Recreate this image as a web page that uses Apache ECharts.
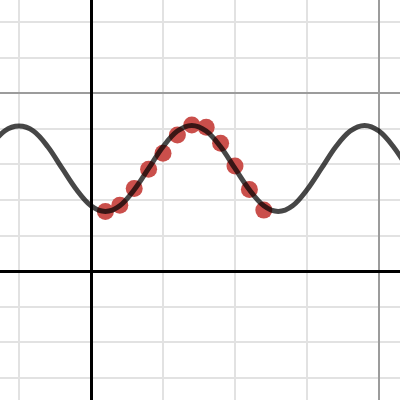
<!DOCTYPE html>
<html>
<head>
<meta charset="utf-8">
<script src="https://cdn.jsdelivr.net/npm/echarts@6/dist/echarts.min.js"></script>
<style>
html,body{margin:0;padding:0;background:#fff;width:400px;height:400px;overflow:hidden;position:relative}
#c{position:absolute;left:-197px;top:-85px;width:864px;height:534px}
</style>
</head>
<body>
<div id="c"></div>
<script>
// Data points (red dots)
var pointX = [0.1, 0.2, 0.3, 0.4, 0.5, 0.6, 0.7, 0.8, 0.9, 1.0, 1.1, 1.2];
var pointY = [1.67, 1.85, 2.32, 2.86, 3.31, 3.82, 4.10, 4.04, 3.59, 2.95, 2.29, 1.71];
// Fitted curve samples
var curveX = [-0.7, -0.6, -0.5, -0.4, -0.3, -0.2, -0.1, 0.0, 0.1, 0.2, 0.3, 0.4, 0.5, 0.6, 0.7, 0.8, 0.9, 1.0, 1.1, 1.2, 1.3, 1.4, 1.5, 1.6, 1.7, 1.8, 1.9, 2.0, 2.1, 2.2];
var curveY = [3.49, 3.93, 4.07, 3.93, 3.49, 2.88, 2.28, 1.83, 1.67, 1.83, 2.28, 2.88, 3.49, 3.93, 4.09, 3.93, 3.49, 2.88, 2.28, 1.83, 1.67, 1.83, 2.28, 2.88, 3.49, 3.93, 4.09, 3.93, 3.49, 2.88];

var chart = echarts.init(document.getElementById('c'), null, {renderer: 'canvas'});

function axis(min, max, interval, color, width, z) {
  return {
    type: 'value', min: min, max: max, interval: interval, z: z,
    axisLine: {show: false}, axisTick: {show: false}, axisLabel: {show: false},
    splitLine: {show: true, lineStyle: {color: color, width: width}}
  };
}

var option = {
  animation: false,
  grid: {left: 0, right: 0, top: 0, bottom: 0, containLabel: false},
  xAxis: [
    axis(-2, 4, 0.5, '#e2e2e2', 2, 0),
    axis(-2, 4, 2, '#9c9c9c', 2, 1)
  ],
  yAxis: [
    axis(-5, 10, 1, '#e2e2e2', 2, 0),
    axis(-5, 10, 5, '#9c9c9c', 2, 1)
  ],
  series: [
    {
      type: 'scatter',
      xAxisIndex: 0, yAxisIndex: 0,
      symbolSize: 17,
      itemStyle: {color: '#ca4f4b', opacity: 1},
      data: pointX.map(function (x, i) { return [x, pointY[i]]; }),
      z: 3,
      markLine: {
        silent: true, symbol: 'none', animation: false,
        label: {show: false},
        lineStyle: {color: '#000', width: 3, type: 'solid'},
        data: [{xAxis: 0}, {yAxis: 0}]
      }
    },
    {
      type: 'line',
      xAxisIndex: 0, yAxisIndex: 0,
      smooth: 0.35,
      showSymbol: false,
      lineStyle: {color: 'rgba(0,0,0,0.72)', width: 5},
      data: curveX.map(function (x, i) { return [x, curveY[i]]; }),
      z: 4
    }
  ]
};
chart.setOption(option);
</script>
</body>
</html>
